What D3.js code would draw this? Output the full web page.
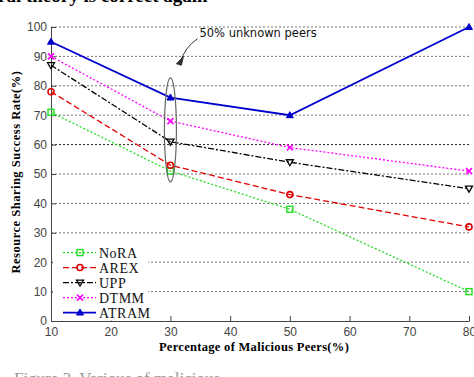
<!DOCTYPE html>
<html>
<head>
<meta charset="UTF-8">
<script src="https://d3js.org/d3.v7.min.js"></script>
<style>
  * { margin: 0; padding: 0; }
  body { background: #fff; overflow: hidden; }
</style>
</head>
<body>
<div id="chart"></div>
<script>
const xValues = [10, 30, 50, 80];
const seriesNames = ["NoRA", "AREX", "UPP", "DTMM", "ATRAM"];
const noraValues = [71, 51, 38, 10];
const arexValues = [78, 53, 43, 32];
const uppValues = [87, 61, 54, 45];
const dtmmValues = [90, 68, 59, 51];
const atramValues = [95, 76, 70, 100];
const xTicks = [10, 20, 30, 40, 50, 60, 70, 80];
const yTicks = [0, 10, 20, 30, 40, 50, 60, 70, 80, 90, 100];

const W = 474, H = 377;
const margin = {top: 27, right: 5, bottom: 56, left: 51};
const width = W - margin.left - margin.right,
      height = H - margin.top - margin.bottom;

const styles = {
  NoRA:  {color: "#22dd22", dash: "2,2", marker: "square"},
  AREX:  {color: "#e00000", dash: "6,3", marker: "circle"},
  UPP:   {color: "#000000", dash: "6,2,2,2", marker: "tridown"},
  DTMM:  {color: "#ff00ff", dash: "2,2", marker: "cross"},
  ATRAM: {color: "#0000cc", dash: null, marker: "triup"}
};
const allValues = [noraValues, arexValues, uppValues, dtmmValues, atramValues];

const root = d3.select("#chart").append("svg")
  .attr("width", W).attr("height", H);

// cut-off text of surrounding page
root.append("text")
  .attr("x", -2).attr("y", 2)
  .style("font-family", "Liberation Serif, serif")
  .style("font-weight", "bold").style("font-size", "19px")
  .text("ral theory is correct again");
root.append("text")
  .attr("x", 14).attr("y", 384)
  .style("font-family", "Liberation Serif, serif")
  .style("font-size", "17px").style("fill", "#999")
  .text("Figure 3.  Various             of malicious");

const svg = root.append("g")
  .attr("transform", `translate(${margin.left},${margin.top})`);

const x = d3.scaleLinear().domain([10, 80]).range([0, width]);
const y = d3.scaleLinear().domain([0, 100]).range([height, 0]);

// grid
svg.append("g")
  .selectAll("line")
  .data(yTicks.filter(d => d > 0))
  .enter().append("line")
  .attr("x1", 0).attr("x2", width)
  .attr("y1", d => y(d)).attr("y2", d => y(d))
  .attr("stroke", d => d === 60 ? "#222" : "#777")
  .attr("stroke-width", 1)
  .attr("stroke-dasharray", "2,2");

// axes
const xAxis = svg.append("g")
  .attr("transform", `translate(0,${height})`)
  .call(d3.axisBottom(x).tickValues(xTicks).tickSizeInner(-5).tickSizeOuter(0).tickPadding(6));
const yAxis = svg.append("g")
  .call(d3.axisLeft(y).tickValues(yTicks).tickSizeInner(-5).tickSizeOuter(0).tickPadding(4));
[xAxis, yAxis].forEach(a => {
  a.selectAll("path, line").attr("stroke", "#444");
  a.selectAll("text")
    .style("font-family", "Liberation Sans, Arial, sans-serif")
    .style("font-size", "12px").style("fill", "#444");
});

// marker drawing
function drawMarker(g, type, cx, cy, color) {
  const s = 3;
  if (type === "square") {
    g.append("rect").attr("x", cx - s).attr("y", cy - s).attr("width", 2 * s).attr("height", 2 * s)
      .attr("fill", "none").attr("stroke", color).attr("stroke-width", 1.4);
  } else if (type === "circle") {
    g.append("circle").attr("cx", cx).attr("cy", cy).attr("r", s)
      .attr("fill", "none").attr("stroke", color).attr("stroke-width", 1.6);
  } else if (type === "tridown") {
    g.append("path").attr("d", `M${cx - 3.5},${cy - 2.5}L${cx + 3.5},${cy - 2.5}L${cx},${cy + 3.5}Z`)
      .attr("fill", "none").attr("stroke", color).attr("stroke-width", 1.3);
  } else if (type === "triup") {
    g.append("path").attr("d", `M${cx - 3.5},${cy + 2.5}L${cx + 3.5},${cy + 2.5}L${cx},${cy - 3.5}Z`)
      .attr("fill", color).attr("stroke", color).attr("stroke-width", 1);
  } else if (type === "cross") {
    g.append("path").attr("d", `M${cx - s},${cy - s}L${cx + s},${cy + s}M${cx + s},${cy - s}L${cx - s},${cy + s}`)
      .attr("stroke", color).attr("stroke-width", 1.6);
  }
}

const line = d3.line().x(d => x(d[0])).y(d => y(d[1]));

seriesNames.forEach((name, i) => {
  const st = styles[name];
  const pts = xValues.map((v, j) => [v, allValues[i][j]]);
  const g = svg.append("g");
  g.append("path").datum(pts)
    .attr("d", line).attr("fill", "none")
    .attr("stroke", st.color).attr("stroke-width", name === "ATRAM" ? 1.8 : 1.3)
    .attr("stroke-dasharray", st.dash);
  pts.forEach(p => drawMarker(g, st.marker, x(p[0]), y(p[1]), st.color));
});

// ellipse annotation at 30%
svg.append("ellipse")
  .attr("cx", x(30)).attr("cy", y(65))
  .attr("rx", 6).attr("ry", 52)
  .attr("fill", "none").attr("stroke", "#666").attr("stroke-width", 1.2);
svg.append("text")
  .attr("x", x(30) + 29).attr("y", y(96.5))
  .style("font-family", "DejaVu Sans, sans-serif")
  .style("font-size", "11.5px").style("fill", "#111")
  .text("50% unknown peers");
svg.append("path")
  .attr("d", `M${x(30) + 27},${y(96)} Q${x(30) + 14},${y(93)} ${x(30) + 10},${y(88)}`)
  .attr("fill", "none").attr("stroke", "#333").attr("stroke-width", 1);
svg.append("path")
  .attr("d", `M${x(30) + 6},${y(87.5)} L${x(30) + 13},${y(90)} L${x(30) + 11},${y(87)} Z`)
  .attr("fill", "#333").attr("stroke", "#333");

// legend
const leg = svg.append("g").attr("transform", `translate(2,${y(26)})`);
leg.append("rect").attr("x", 0).attr("y", 0).attr("width", 95).attr("height", 76).attr("fill", "#fff");
seriesNames.forEach((name, i) => {
  const st = styles[name];
  const ly = 8 + i * 15;
  leg.append("line").attr("x1", 10).attr("x2", 43).attr("y1", ly).attr("y2", ly)
    .attr("stroke", st.color).attr("stroke-width", name === "ATRAM" ? 1.8 : 1.3)
    .attr("stroke-dasharray", st.dash);
  drawMarker(leg, st.marker, 27, ly, st.color);
  leg.append("text").attr("x", 46).attr("y", ly + 5)
    .style("font-family", "Liberation Serif, serif")
    .style("font-size", "14px").style("letter-spacing", "0.5px").style("fill", "#111")
    .text(name);
});

// axis labels
svg.append("text")
  .attr("x", width / 2 - 6).attr("y", height + 30)
  .attr("text-anchor", "middle")
  .style("font-family", "Liberation Serif, serif")
  .style("font-weight", "bold").style("font-size", "12.5px")
  .style("letter-spacing", "0.3px")
  .text("Percentage of Malicious Peers(%)");
svg.append("text")
  .attr("transform", `translate(-31,${height / 2 - 2}) rotate(-90)`)
  .attr("text-anchor", "middle")
  .style("font-family", "Liberation Serif, serif")
  .style("font-weight", "bold").style("font-size", "12.5px")
  .style("letter-spacing", "0.5px")
  .text("Resource Sharing Success Rate(%)");
</script>
</body>
</html>
